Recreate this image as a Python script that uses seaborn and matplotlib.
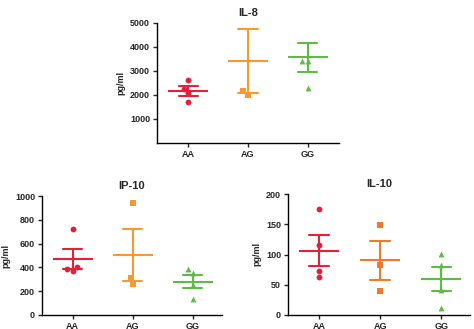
import matplotlib
matplotlib.use("Agg")
import matplotlib.pyplot as plt
import seaborn as sns
import pandas as pd

genotypes = ["AA", "AG", "GG"]

il8_AA = [2625, 2250, 2070, 1720]
il8_AG = [1990, 2150, 6080]
il8_GG = [3400, 3400, 2280, 5200]

ip10_AA = [720, 407, 373, 390]
ip10_AG = [942, 262, 310]
ip10_GG = [357, 385, 134, 248]

il10_AA = [175, 116.5, 72, 62]
il10_AG = [149, 83, 39]
il10_GG = [101, 83, 11.6, 42]

il8_ticks = [1000, 2000, 3000, 4000, 5000]
ip10_ticks = [0, 200, 400, 600, 800, 1000]
il10_ticks = [0, 50, 100, 150, 200]


def frame(a, b, c):
    rows = []
    for g, vals in zip(genotypes, (a, b, c)):
        for v in vals:
            rows.append({"genotype": g, "value": v})
    return pd.DataFrame(rows)


sns.set_style("ticks")
plt.rcParams["font.family"] = ["Liberation Sans", "DejaVu Sans"]
plt.rcParams["font.weight"] = "bold"

fig = plt.figure(figsize=(4.74, 3.29), dpi=100)

panels = [
    ("IL-8", frame(il8_AA, il8_AG, il8_GG), il8_ticks, (0, 5000),
     [157 / 474, 1 - 143 / 329, 182 / 474, 120 / 329], (-0.52, 2.52),
     ["#E5203A", "#F59A32", "#5DBB46"]),
    ("IP-10", frame(ip10_AA, ip10_AG, ip10_GG), ip10_ticks, (0, 1000),
     [42 / 474, 1 - 315 / 329, 180 / 474, 119 / 329], (-0.51, 2.49),
     ["#E5203A", "#F59A32", "#5DBB46"]),
    ("IL-10", frame(il10_AA, il10_AG, il10_GG), il10_ticks, (0, 200),
     [288 / 474, 1 - 315 / 329, 182 / 474, 121 / 329], (-0.51, 2.47),
     ["#E5203A", "#F07A2A", "#5DBB46"]),
]

markers = {"AA": "o", "AG": "s", "GG": "^"}

for title, df, ticks, ylim, rect, xlim, colors in panels:
    ax = fig.add_axes(rect)
    pal = dict(zip(genotypes, colors))
    for g in genotypes:
        sub = df[df["genotype"] == g]
        sns.swarmplot(data=sub, x="genotype", y="value", order=genotypes,
                      color=pal[g], marker=markers[g], size=4.2,
                      linewidth=0, ax=ax, zorder=3)
    sns.pointplot(data=df, x="genotype", y="value", order=genotypes,
                  hue="genotype", hue_order=genotypes, palette=pal,
                  errorbar="se", capsize=0.32, markers="_",
                  markersize=29, markeredgewidth=1.5, linestyles="none",
                  err_kws={"linewidth": 1.5}, dodge=False, legend=False,
                  ax=ax, zorder=4)
    ax.set_xlim(*xlim)
    ax.set_ylim(*ylim)
    ax.set_yticks(ticks)
    ax.set_xlabel("")
    ax.set_ylabel("pg/ml", fontsize=6.5, fontweight="bold", labelpad=3)
    ax.set_title(title, fontsize=8, fontweight="bold", pad=5)
    ax.tick_params(axis="both", labelsize=6.5, length=3, width=1, pad=2)
    for lab in ax.get_xticklabels() + ax.get_yticklabels():
        lab.set_fontweight("bold")
    for s in ("left", "bottom"):
        ax.spines[s].set_linewidth(1)
        ax.spines[s].set_color("black")
    sns.despine(ax=ax)

fig.savefig("out.png", dpi=100)
